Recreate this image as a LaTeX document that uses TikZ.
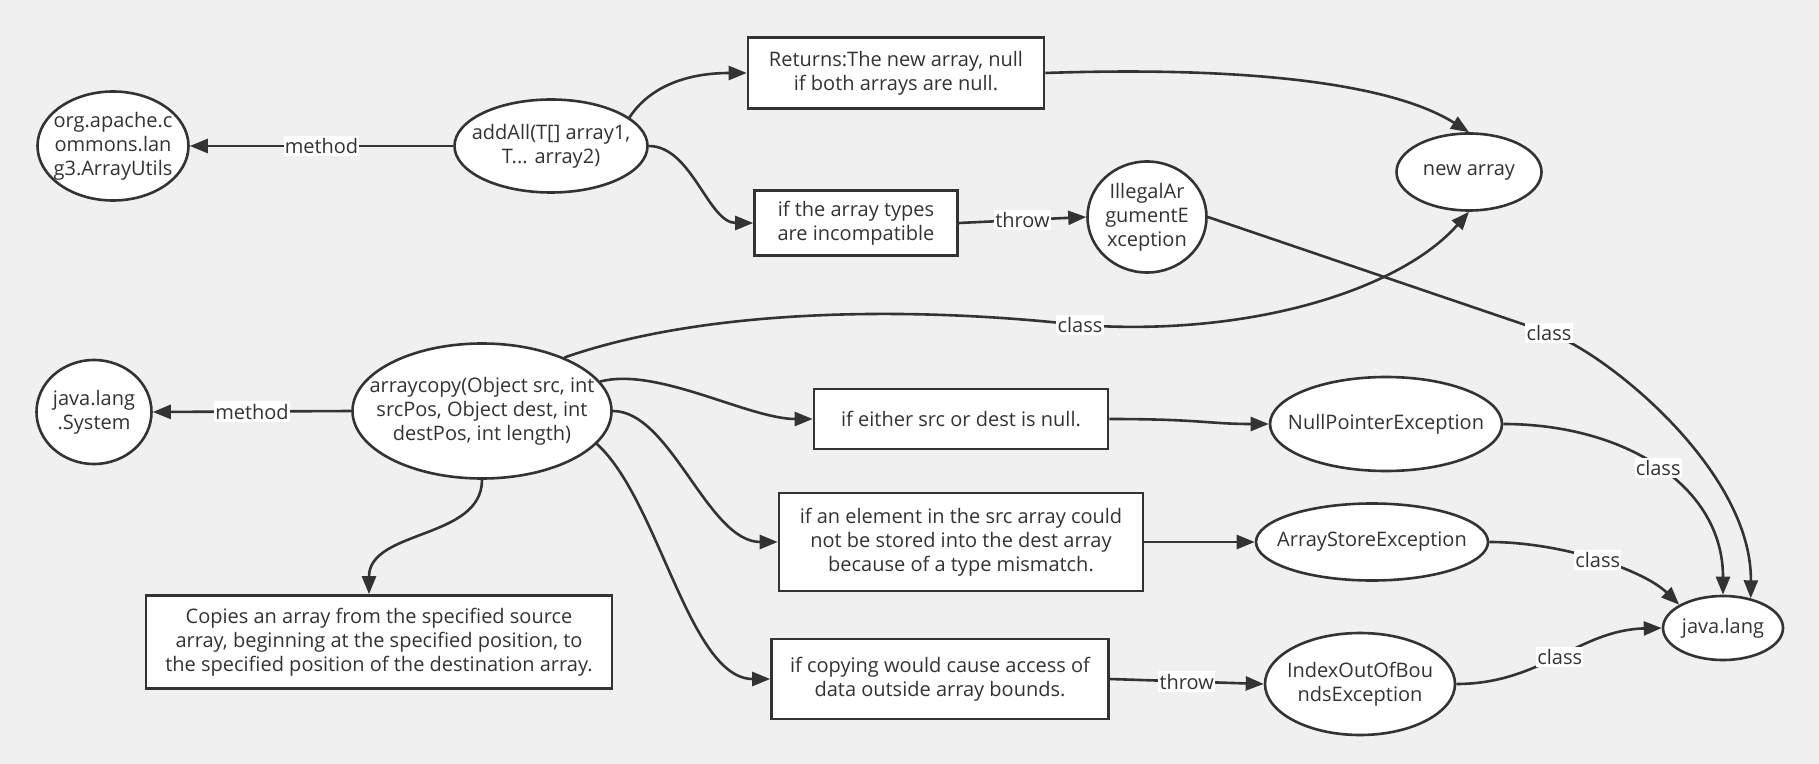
\documentclass[tikz,border=0pt]{standalone}
\usepackage{fontspec}
\setmainfont{Open Sans}
\usetikzlibrary{shapes.geometric,arrows.meta}
\definecolor{bg}{HTML}{F0F0F0}
\definecolor{ln}{HTML}{333333}
\begin{document}
\begin{tikzpicture}[x=0.5pt,y=-0.5pt,
  every node/.style={font=\fontsize{10pt}{12pt}\selectfont, text=ln},
  ell/.style={ellipse, draw=ln, line width=1.3pt, fill=white, inner xsep=-30pt, inner ysep=-12pt, align=center},
  box/.style={rectangle, draw=ln, line width=1.3pt, fill=white, inner sep=0pt, align=center},
  lbl/.style={fill=white, inner xsep=0.6pt, inner ysep=1.2pt},
  conn/.style={draw=ln, line width=1.3pt, -{Triangle[length=9pt,width=7pt]}}]
\fill[bg] (0,0) rectangle (1819,764);
\useasboundingbox (0,0) rectangle (1819,764);

% nodes
\node[ell, minimum width=75.5pt, minimum height=54.5pt] (oa) at (113,146) {org.apache.c\\ommons.lan\\g3.ArrayUtils};
\node[ell, minimum width=96.5pt, minimum height=46.5pt] (aa) at (551,146) {addAll(T[] array1,\\T... array2)};
\node[box, minimum width=148pt, minimum height=35.5pt] (ret) at (896,73) {Returns:The new array, null\\if both arrays are null.};
\node[box, minimum width=101.5pt, minimum height=32.5pt] (typ) at (856,223) {if the array types\\are incompatible};
\node[ell, minimum width=59.5pt, minimum height=55.5pt] (ill) at (1147,217) {IllegalAr\\gumentE\\xception};
\node[ell, minimum width=72.5pt, minimum height=38.5pt] (na) at (1469,172) {new array};
\node[ell, minimum width=57.5pt, minimum height=52pt] (sys) at (94,412) {java.lang\\.System};
\node[ell, minimum width=129.5pt, minimum height=67.5pt] (ac) at (482,411) {arraycopy(Object src, int\\srcPos, Object dest, int\\destPos, int length)};
\node[box, minimum width=233pt, minimum height=46.5pt] (cp) at (379,642) {Copies an array from the specified source\\array, beginning at the specified position, to\\the specified position of the destination array.};
\node[box, minimum width=147pt, minimum height=30pt] (nul) at (961,419) {if either src or dest is null.};
\node[box, minimum width=182pt, minimum height=49pt] (elm) at (961,542) {if an element in the src array could\\not be stored into the dest array\\because of a type mismatch.};
\node[box, minimum width=168.5pt, minimum height=40pt] (cpy) at (940,679) {if copying would cause access of\\data outside array bounds.};
\node[ell, minimum width=116pt, minimum height=47pt] (npe) at (1386,424) {NullPointerException};
\node[ell, minimum width=116pt, minimum height=38.5pt] (ase) at (1372,542) {ArrayStoreException};
\node[ell, minimum width=95pt, minimum height=51pt] (ioe) at (1360,684) {IndexOutOfBou\\ndsException};
\node[ell, minimum width=60pt, minimum height=32pt] (jl) at (1723,628) {java.lang};
\coordinate (kill) at (1549,333);
\coordinate (kac) at (1080,325);

% connectors
\draw[conn] (aa.west) -- node[lbl] {method} (oa.east);
\draw[conn] (aa.20) .. controls +(21,-32) and +(-58,0) .. (ret.west);
\draw[conn] (aa.east) .. controls +(43,0) and +(-45,0) .. (typ.west);
\draw[conn] (typ.east) -- node[lbl] {throw} (ill.west);
\draw[conn] (ret.east) .. controls +(206,-7) and +(-76,-48) .. (na.north);
\draw[conn] (ill.east) -- (kill) node[lbl] {class}
   .. controls (1605,352) and (1752,470) .. (jl.47);
\draw[conn] (ac.west) -- node[lbl] {method} (sys.east);
\draw[conn] (ac.33) .. controls (700,310) and (900,305) .. (kac) node[lbl] {class}
   .. controls (1250,337) and (1400,290) .. (na.south);
\draw[conn] (ac.14) .. controls +(57,-15) and +(-64,0) .. (nul.west);
\draw[conn] (ac.east) .. controls +(58,0) and +(-70,0) .. (elm.west);
\draw[conn] (ac.-16) .. controls +(62,56) and +(-81,0) .. (cpy.west);
\draw[conn] (ac.south) .. controls +(0,60) and +(0,-65) .. ([xshift=-5pt]cp.north);
\draw[conn] (nul.east) .. controls +(90,0) and +(-60,0) .. (npe.west);
\draw[conn] (elm.east) -- (ase.west);
\draw[conn] (cpy.east) -- node[lbl] {throw} (ioe.west);
\draw[conn] (npe.east) .. controls +(120,0) and +(0,-110) .. node[lbl, pos=0.5] {class} (jl.north);
\draw[conn] (ase.east) .. controls +(72,0) and +(-36,-35) .. node[lbl, pos=0.5] {class} (jl.152);
\draw[conn] (ioe.east) .. controls +(85,0) and +(-83,2) .. node[lbl, pos=0.5] {class} (jl.west);
\end{tikzpicture}
\end{document}
